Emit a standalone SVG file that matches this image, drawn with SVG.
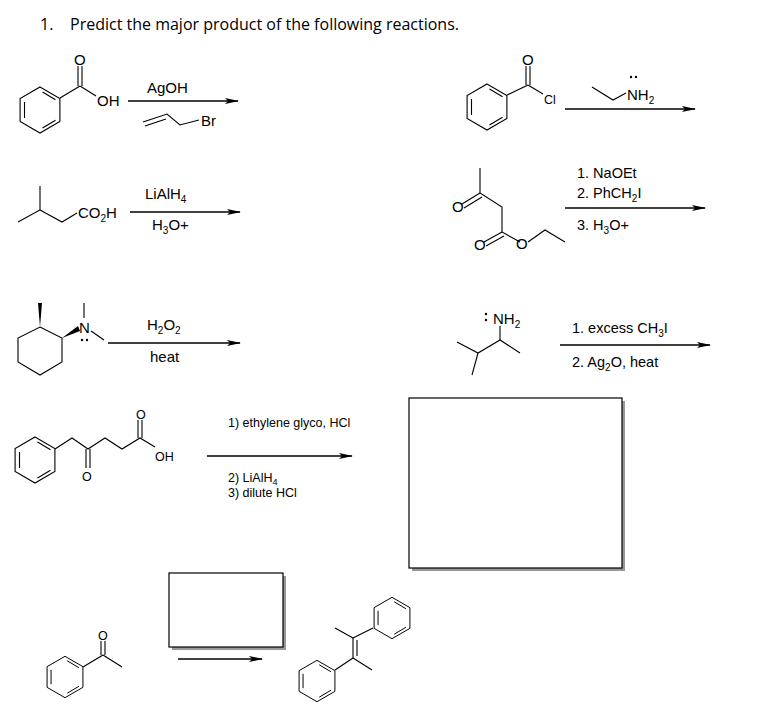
<svg xmlns="http://www.w3.org/2000/svg" width="775" height="716" viewBox="0 0 775 716">
<style>
text{font-family:"Liberation Sans",Arial,sans-serif;font-size:15px;fill:#000}
.s{font-size:12.5px}
.m{font-size:14.5px}
.t{font-family:"Open Sans","Liberation Sans",sans-serif;font-size:16px}
.b{fill:none;stroke:#000;stroke-width:1.1}
.a{stroke:#000;stroke-width:1.6;fill:none}
.box{fill:#fff;stroke:#000;stroke-width:1.2}
</style>
<defs>
<g id="bz" class="b">
<polygon points="0,-23 19.9,-11.5 19.9,11.5 0,23 -19.9,11.5 -19.9,-11.5"/>
<line x1="2.5" y1="-18" x2="15.5" y2="-10.3"/>
<line x1="15.5" y1="10.3" x2="2.5" y2="18"/>
<line x1="-15.5" y1="8" x2="-15.5" y2="-8"/>
</g>
<marker id="ar" markerWidth="14" markerHeight="8" refX="13" refY="4" orient="auto" markerUnits="userSpaceOnUse"><path d="M0,1 L14,4 L0,7 L3,4 Z" fill="#000"/></marker>
</defs>
<text class="t" x="40" y="30">1.</text>
<text class="t" x="70" y="30">Predict the major product of the following reactions.</text>

<g id="benzoic">
<use href="#bz" x="40" y="110"/>
<g class="b"><line x1="60" y1="98" x2="80" y2="86"/><line x1="80" y1="86" x2="96" y2="96"/><line x1="78" y1="86" x2="78" y2="66"/><line x1="82" y1="86" x2="82" y2="66"/></g>
<text x="74" y="65">O</text><text x="97" y="106">OH</text>
</g>
<g id="allylbr" class="b"><polyline points="143,122 167,114 180,125 199,120"/><line x1="145" y1="126" x2="166" y2="119"/></g>
<text x="201" y="126">Br</text>
<text x="147" y="93">AgOH</text>

<g id="isovaleric" class="b"><polyline points="40,186 40,210 18,222"/><polyline points="40,210 62,222 77,213"/></g>
<text x="78" y="218">CO<tspan font-size="10" dy="4">2</tspan><tspan dy="-4">H</tspan></text>
<text x="145" y="199">LiAlH<tspan font-size="10" dy="4">4</tspan></text>
<text x="152" y="230">H<tspan font-size="10" dy="4">3</tspan><tspan dy="-4">O+</tspan></text>

<g id="benzoylcl">
<use href="#bz" x="487" y="107"/>
<g class="b"><line x1="507" y1="95" x2="528" y2="85"/><line x1="528" y1="85" x2="543" y2="94"/><line x1="526" y1="85" x2="526" y2="66"/><line x1="530" y1="85" x2="530" y2="66"/></g>
<text x="522" y="65">O</text><text x="544" y="104" class="s">Cl</text>
</g>
<g id="ethylamine" class="b"><polyline points="592,87 613,100 626,93"/></g>
<text x="627" y="100">NH<tspan font-size="10" dy="4">2</tspan></text>
<circle cx="631" cy="77" r="1.2"/><circle cx="636" cy="77" r="1.2"/>

<g id="acetoacetate" class="b">
<polyline points="480,168 480,193 502,207 502,232 520,242"/><polyline points="528,242 545,230 565,242"/>
<line x1="480" y1="193" x2="462" y2="204"/><line x1="482" y1="197" x2="464" y2="208"/>
<line x1="502" y1="232" x2="484" y2="242"/><line x1="504" y1="236" x2="486" y2="246"/>
</g>
<text x="452" y="212">O</text><text x="474" y="250">O</text><text x="516" y="249">O</text>
<text x="577" y="178" class="m">1. NaOEt</text>
<text x="577" y="198" class="m">2. PhCH<tspan font-size="10" dy="4">2</tspan><tspan dy="-4">I</tspan></text>
<text x="577" y="230" class="m">3. H<tspan font-size="10" dy="4">3</tspan><tspan dy="-4">O+</tspan></text>

<g id="amineoxide">
<polygon class="b" points="40,327 62,338 62,362 40,375 18,362 18,338"/>
<polygon points="40,327 38,303 42,303" fill="#000"/>
<polygon points="62,338 78,326 80,331" fill="#000"/>
<g class="b"><line x1="84" y1="303" x2="84" y2="318"/><line x1="91" y1="331" x2="104" y2="340"/></g>
<text x="79" y="333">N</text>
<circle cx="82" cy="340" r="1.2"/><circle cx="87" cy="340" r="1.2"/>
</g>
<text x="147" y="330">H<tspan font-size="10" dy="4">2</tspan><tspan dy="-4">O</tspan><tspan font-size="10" dy="4">2</tspan></text>
<text x="150" y="362">heat</text>

<g id="amine" class="b"><polyline points="457,342 478,353 500,340 520,353"/><line x1="478" y1="353" x2="472" y2="375"/><line x1="500" y1="340" x2="500" y2="326"/></g>
<text x="493" y="324">NH<tspan font-size="10" dy="4">2</tspan></text>
<circle cx="486" cy="314" r="1.2"/><circle cx="486" cy="320" r="1.2"/>
<text x="572" y="333" class="m">1. excess CH<tspan font-size="10" dy="4">3</tspan><tspan dy="-4">I</tspan></text>
<text x="572" y="367" class="m">2. Ag<tspan font-size="10" dy="4">2</tspan><tspan dy="-4">O, heat</tspan></text>

<g id="ketoacid">
<use href="#bz" x="35" y="460"/>
<g class="b"><polyline points="55,449 72,438 88,449 105,438 122,449 140,438 155,447"/>
<line x1="86" y1="449" x2="86" y2="468"/><line x1="90" y1="449" x2="90" y2="468"/>
<line x1="138" y1="438" x2="138" y2="420"/><line x1="142" y1="438" x2="142" y2="420"/></g>
<text x="82" y="481" class="s">O</text><text x="136" y="419" class="s">O</text><text x="155" y="461" class="s">OH</text>
</g>
<text x="228" y="427" class="s">1) ethylene glyco, HCl</text>
<text x="228" y="482" class="s">2) LiAlH<tspan font-size="9" dy="3">4</tspan></text>
<text x="228" y="497" class="s">3) dilute HCl</text>

<g id="acetophenone">
<use href="#bz" transform="translate(65 677) scale(0.9)"/>
<g class="b"><line x1="83" y1="667" x2="103" y2="655"/><line x1="103" y1="655" x2="122" y2="667"/><line x1="101" y1="655" x2="101" y2="641"/><line x1="105" y1="655" x2="105" y2="641"/></g>
<text x="98" y="640" class="s">O</text>
</g>

<g id="stilbene">
<g class="b"><line x1="353" y1="638" x2="353" y2="658"/><line x1="357" y1="640" x2="357" y2="656"/>
<line x1="353" y1="638" x2="335" y2="628"/><line x1="353" y1="638" x2="373" y2="628"/>
<line x1="353" y1="658" x2="372" y2="670"/><line x1="353" y1="658" x2="335" y2="670"/></g>
<use href="#bz" transform="translate(392 618) scale(0.9)"/>
<use href="#bz" transform="translate(317 681) scale(0.9)"/>
</g>

<g id="box1"><rect x="412" y="401" width="213" height="170" fill="#999"/><rect class="box" x="409" y="398" width="213" height="170"/></g>
<g id="box2"><rect x="172" y="576" width="114" height="74" fill="#999"/><rect class="box" x="169" y="573" width="114" height="74"/></g>

<g id="connectors">
<line class="a" x1="128" y1="101" x2="238" y2="101" marker-end="url(#ar)"/>
<line class="a" x1="130" y1="212" x2="240" y2="212" marker-end="url(#ar)"/>
<line class="a" x1="565" y1="109" x2="695" y2="109" marker-end="url(#ar)"/>
<line class="a" x1="565" y1="208" x2="705" y2="208" marker-end="url(#ar)"/>
<line class="a" x1="108" y1="343" x2="240" y2="343" marker-end="url(#ar)"/>
<line class="a" x1="560" y1="345" x2="710" y2="345" marker-end="url(#ar)"/>
<line class="a" x1="207" y1="456" x2="352" y2="456" stroke-width="1.1" marker-end="url(#ar)"/>
<line class="a" x1="178" y1="659" x2="262" y2="659" stroke-width="1.1" marker-end="url(#ar)"/>
</g>
</svg>
